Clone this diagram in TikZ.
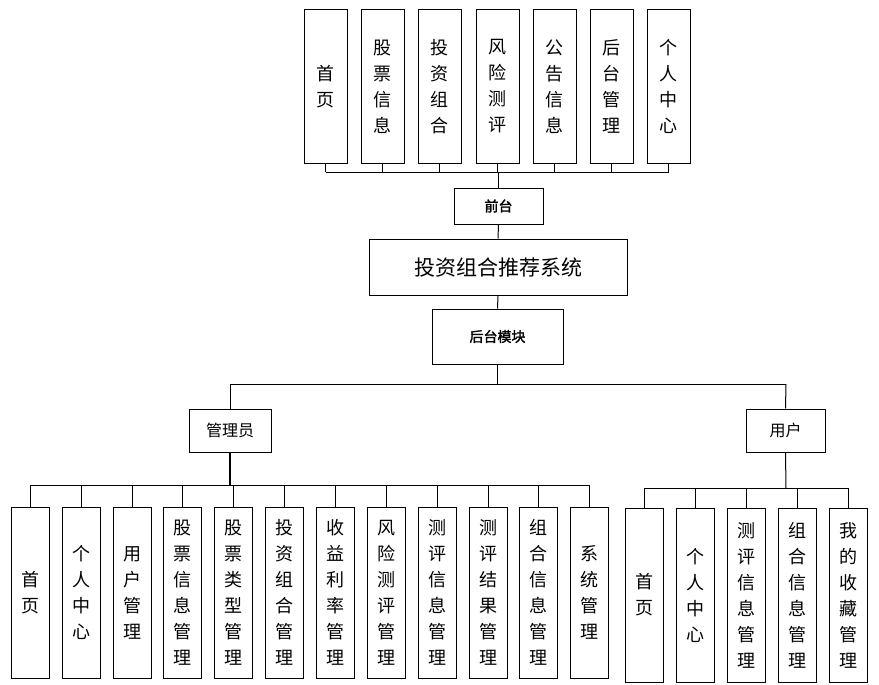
\documentclass[tikz,border=0pt]{standalone}
\usepackage{fontspec}
\setmainfont{Noto Sans CJK SC}
\newfontfamily\cjkb[FakeBold=2]{Noto Sans CJK SC}
\begin{document}
\begin{tikzpicture}[x=1pt,y=-1pt,
  vbox/.style={draw,line width=1pt,align=center,font=\fontsize{18}{26}\selectfont,inner sep=0pt},
  hbox/.style={draw,line width=1pt,inner sep=0pt},
  ln/.style={line width=1pt}]
\useasboundingbox (0,0) rectangle (879,685);
% top boxes
\foreach \x/\t [count=\i] in {304/首\\页,361/股\\票\\信\\息,418/投\\资\\组\\合,476/风\\险\\测\\评,533/公\\告\\信\\息,590/后\\台\\管\\理,647/个\\人\\中\\心}{
  \node[vbox,minimum width=43pt,minimum height=153pt] (t\i) at (\x+21.5,86.5) {\t};
  \draw[ln] (t\i.south) -- (\x+21.5,172);
}
\draw[ln] (325.5,172) -- (668.5,172);
\node[hbox,minimum width=89pt,minimum height=36pt,font=\cjkb\fontsize{14}{16}\selectfont] (qt) at (498.5,206) {前台};
\draw[ln] (498.5,172) -- (qt.north);
\node[hbox,minimum width=258pt,minimum height=56pt,font=\fontsize{21}{24}\selectfont] (sys) at (498,267) {投资组合推荐系统};
\draw[ln] (qt.south) -- (sys.north);
\node[hbox,minimum width=131pt,minimum height=55pt,font=\cjkb\fontsize{14}{16}\selectfont] (ht) at (497.5,336.5) {后台模块};
\draw[ln] (sys.south) -- (ht.north);
\draw[ln] (ht.south) -- (497.5,384);
\draw[ln] (230,384) -- (786,384);
\node[hbox,minimum width=82pt,minimum height=43pt,font=\fontsize{16}{18}\selectfont] (adm) at (230,430.5) {管理员};
\node[hbox,minimum width=79pt,minimum height=43pt,font=\fontsize{16}{18}\selectfont] (usr) at (785.5,430.5) {用户};
\draw[ln] (230,384) -- (adm.north);
\draw[ln] (786,384) -- (usr.north);
\draw[line width=2pt] (adm.south) -- (230,485);
\draw[ln] (usr.south) -- (786,488);
\draw[ln] (30,485) -- (590,485);
\draw[ln] (644,488) -- (848,488);
\foreach \x/\t [count=\i] in {11/首\\页,62/个\\人\\中\\心,113/用\\户\\管\\理,163/股\\票\\信\\息\\管\\理,214/股\\票\\类\\型\\管\\理,265/投\\资\\组\\合\\管\\理,316/收\\益\\利\\率\\管\\理,367/风\\险\\测\\评\\管\\理,418/测\\评\\信\\息\\管\\理,469/测\\评\\结\\果\\管\\理,519/组\\合\\信\\息\\管\\理,570/系\\统\\管\\理}{
  \node[vbox,minimum width=38pt,minimum height=171pt] (a\i) at (\x+19,592.5) {\t};
  \draw[ln] (\x+19,485) -- (a\i.north);
}
\foreach \x/\t [count=\i] in {625/首\\页,676/个\\人\\中\\心,727/测\\评\\信\\息\\管\\理,778/组\\合\\信\\息\\管\\理,829/我\\的\\收\\藏\\管\\理}{
  \node[vbox,minimum width=38pt,minimum height=174pt] (u\i) at (\x+19,595) {\t};
  \draw[ln] (\x+19,488) -- (u\i.north);
}
\end{tikzpicture}
\end{document}
